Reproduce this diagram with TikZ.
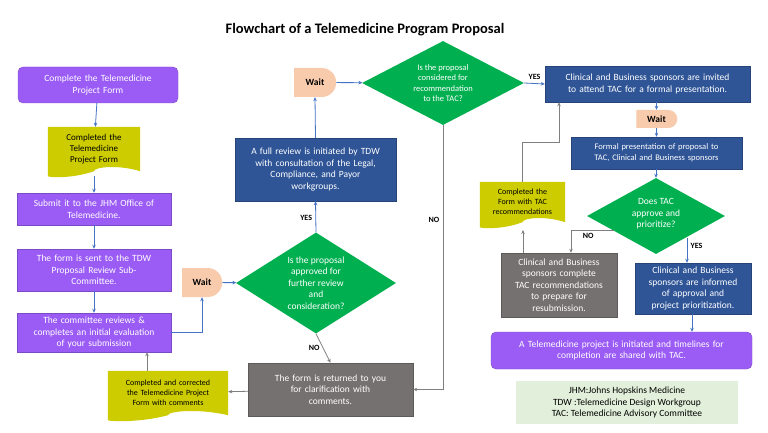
\documentclass[tikz,border=0pt]{standalone}
\usepackage{fontspec}
\setmainfont{Carlito}
\usetikzlibrary{shapes.geometric,shapes.misc,arrows.meta,calc}
\definecolor{purp}{HTML}{9B5CF6}
\definecolor{ylw}{HTML}{CCCC00}
\definecolor{dblue}{HTML}{2F5597}
\definecolor{gry}{HTML}{767171}
\definecolor{peach}{HTML}{F8CBAD}
\definecolor{grn}{HTML}{00B050}
\definecolor{lgrn}{HTML}{E2EFDA}
\definecolor{ablue}{HTML}{4472C4}
\definecolor{agry}{HTML}{7F7F7F}
\begin{document}
\begin{tikzpicture}[x=1pt,y=-1pt,
 font=\fontsize{9.5}{11.5}\selectfont,
 box/.style={rectangle,inner sep=1pt,align=center,text=white,draw=#1!80!black,line width=0.4pt,fill=#1},
 pbox/.style={box=purp,rounded corners=5pt},
 wait/.style={rounded rectangle,rounded rectangle left arc=none,fill=peach,font=\fontsize{9.5}{10}\selectfont\bfseries,inner sep=1pt},
 dia/.style={diamond,fill=grn,text=white,align=center,inner sep=0pt,aspect=1.6},
 doctxt/.style={rectangle,align=center,inner sep=1pt,font=\fontsize{8}{10}\selectfont},
 ba/.style={draw=ablue,line width=0.8pt,-{Stealth[length=4pt,width=3.5pt]}},
 ga/.style={draw=agry,line width=0.8pt,-{Stealth[length=4pt,width=3.5pt]}},
 lbl/.style={font=\fontsize{8}{9}\selectfont\bfseries}]
\useasboundingbox (0,0) rectangle (768,433);
\fill[white] (0,0) rectangle (768,433);
\newcommand{\docfill}[1]{\fill[ylw] (#1.north west) -- (#1.north east) -- (#1.south east) .. controls ($(#1.south east)!0.5!(#1.south)+(0,-7)$) and ($(#1.south)+(0,-4)$) .. (#1.south) .. controls ($(#1.south)!0.5!(#1.south west)+(0,8)$) and ($(#1.south west)+(0,6)$) .. ($(#1.south west)+(0,5)$) -- cycle;}
\node[font=\fontsize{14.5}{16}\selectfont\bfseries] (title) at (365,30) {Flowchart of a Telemedicine Program Proposal};
% left column
\node[pbox,minimum width=160pt,minimum height=36pt,text width=150pt] (a1) at (98,85) {Complete the Telemedicine\\Project Form};
\node[doctxt,minimum width=92pt,minimum height=44pt,text width=88pt,font=\fontsize{9}{11}\selectfont] (d1) at (94,149) {Completed the\\Telemedicine\\Project Form};
\node[box=purp,minimum width=154pt,minimum height=32pt,text width=150pt] (a2) at (94,209) {Submit it to the JHM Office of\\Telemedicine.};
\node[box=purp,minimum width=154pt,minimum height=42pt,text width=150pt] (a3) at (94,270) {The form is sent to the TDW\\Proposal Review Sub-\\Committee.};
\node[box=purp,minimum width=154pt,minimum height=39pt,text width=150pt] (a4) at (94,332.5) {The committee reviews \&\\completes an initial evaluation\\of your submission};
\node[doctxt,minimum width=120pt,minimum height=44pt,text width=116pt] (d2) at (168,393) {Completed and corrected\\the Telemedicine Project\\Form with comments};
% middle
\node[wait,minimum width=42pt,minimum height=29pt] (w1) at (202,282.5) {Wait};
\node[dia,minimum width=160pt,minimum height=101pt] (q1) at (316,283) {};
\node[text=white,align=center] at (316,283) {Is the proposal\\approved for\\further review\\and\\consideration?};
\node[box=dblue,minimum width=161pt,minimum height=63pt,text width=155pt] (b1) at (315.5,169.5) {A full review is initiated by TDW\\with consultation of the Legal,\\Compliance, and Payor\\workgroups.};
\node[wait,minimum width=44pt,minimum height=29pt] (w2) at (315,82.5) {Wait};
\node[dia,minimum width=162pt,minimum height=84pt] (q2) at (443,83) {};
\node[text=white,align=center,font=\fontsize{8.5}{10.5}\selectfont] at (443,83) {Is the proposal\\considered for\\recommendation\\to the TAC?};
\node[box=gry,minimum width=165pt,minimum height=53pt,text width=150pt] (g1) at (330.5,389.5) {The form is returned to you\\for clarification with\\comments.};
% right
\node[box=dblue,minimum width=205pt,minimum height=36pt,text width=200pt] (c1) at (647.5,84) {Clinical and Business sponsors are invited\\to attend TAC for a formal presentation.};
\node[wait,minimum width=43pt,minimum height=18pt] (w3) at (656.5,119) {Wait};
\node[box=dblue,minimum width=171pt,minimum height=32pt,text width=165pt,font=\fontsize{8.5}{11}\selectfont] (c2) at (656.5,153) {Formal presentation of proposal to\\TAC, Clinical and Business sponsors};
\node[dia,minimum width=138pt,minimum height=76pt] (q3) at (656,216) {};
\node[text=white,align=center] at (656,214) {Does TAC\\approve and\\prioritize?};
\node[box=dblue,minimum width=116pt,minimum height=51pt,text width=112pt] (c3) at (693,288.5) {Clinical and Business\\sponsors are informed\\of approval and\\project prioritization.};
\node[box=gry,minimum width=116pt,minimum height=64pt,text width=112pt] (g2) at (559,285) {Clinical and Business\\sponsors complete\\TAC recommendations\\to prepare for\\resubmission.};
\node[doctxt,minimum width=85pt,minimum height=40pt,text width=82pt] (d3) at (522.5,202) {Completed the\\Form with TAC\\recommendations};
\node[pbox,minimum width=261pt,minimum height=37pt,text width=250pt] (p) at (621.5,350.5) {A Telemedicine project is initiated and timelines for\\completion are shared with TAC.};
\node[rectangle,fill=lgrn,minimum width=222pt,minimum height=43pt,align=center,inner sep=1pt] (leg) at (627,402.5) {JHM:Johns Hopskins Medicine\\TDW :Telemedicine Design Workgroup\\TAC: Telemedicine Advisory Committee};
% doc fills, then texts on top
\docfill{d1}\docfill{d2}\docfill{d3}
\node[doctxt,minimum width=92pt,minimum height=44pt,text width=88pt,font=\fontsize{9}{11}\selectfont] at (94,149) {Completed the\\Telemedicine\\Project Form};
\node[doctxt,minimum width=120pt,minimum height=44pt,text width=116pt] at (168,393) {Completed and corrected\\the Telemedicine Project\\Form with comments};
\node[doctxt,minimum width=85pt,minimum height=40pt,text width=82pt] at (522.5,202) {Completed the\\Form with TAC\\recommendations};
% connectors
\draw[ba] (a1) -- (d1);
\draw[ba] (d1.south |- 0,176) -- (a2);
\draw[ba] (a2) -- (a3);
\draw[ba] (a3) -- (a4);
\draw[ba] (a4.east) -| (w1.south);
\draw[ba] (w1) -- (q1);
\draw[ba] (q1.north) -- node[lbl,left,pos=0.45,text=black]{YES} (b1.south);
\draw[ga] (q1.south) -- node[lbl,left,text=black]{NO} (g1.north);
\draw[ba] (b1.north) -- (w2.south);
\draw[ba] (w2) -- (q2);
\draw[ga] (q2.south) |- node[lbl,pos=0.18,left,text=black]{NO} (g1.east);
\draw[ga] (g1) -- (d2);
\draw[ga] (d2.north -| 147,0) -- (a4.south -| 147,0);
\draw[ba] (q2.east) -- node[lbl,above,text=black]{YES} (c1.west);
\draw[ba] (c1.south -| w3) -- (w3);
\draw[ba] (w3) -- (c2.north -| w3);
\draw[ba] (c2.south -| q3) -- (q3.north);
\coordinate (nstart) at (614,230);
\draw[ga] (nstart) -| node[lbl,pos=0.3,below,text=black]{NO} (g2.north -| 571,0);
\coordinate (ystart) at (687,238);
\draw[ba] (ystart) -- node[lbl,pos=0.3,right,text=black]{YES} (c3.north -| 687,0);
\draw[ga] (g2.north -| 523,0) -- (523,230);
\draw[ga] (d3.north) |- (559,142) -- (c1.south -| 559,0);
\draw[ba] (c3.south -| 692,0) -- (p.north -| 692,0);
\end{tikzpicture}
\end{document}
